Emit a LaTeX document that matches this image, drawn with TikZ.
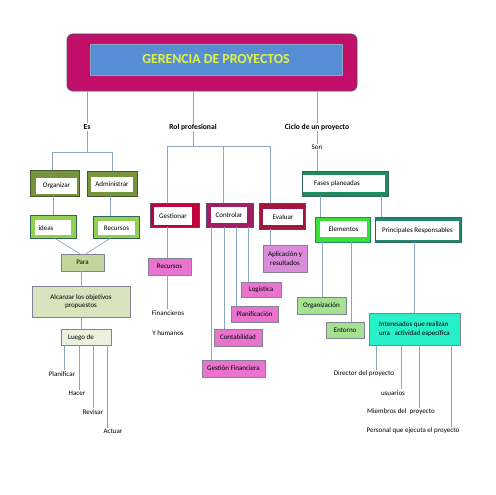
\documentclass[tikz,border=0pt]{standalone}
\usepackage{fontspec}
\setmainfont{Carlito}
\usetikzlibrary{calc}
\definecolor{titlemag}{RGB}{194,16,106}
\definecolor{titleblue}{RGB}{86,141,213}
\definecolor{titleyel}{RGB}{228,244,60}
\definecolor{lineblue}{RGB}{140,165,195}
\definecolor{olive}{RGB}{119,147,60}
\definecolor{olivedark}{RGB}{70,90,50}
\definecolor{lgreen}{RGB}{146,208,80}
\definecolor{tealdark}{RGB}{50,100,90}
\definecolor{parafill}{RGB}{195,214,155}
\definecolor{alcfill}{RGB}{215,228,189}
\definecolor{luegofill}{RGB}{235,241,222}
\definecolor{crimson}{RGB}{192,0,60}
\definecolor{magdark}{RGB}{160,30,100}
\definecolor{maroon}{RGB}{165,22,62}
\definecolor{slate}{RGB}{90,70,120}
\definecolor{pinkfill}{RGB}{233,115,205}
\definecolor{pinklight}{RGB}{218,140,218}
\definecolor{boxgrey}{RGB}{130,130,150}
\definecolor{fasegreen}{RGB}{30,140,94}
\definecolor{brightgreen}{RGB}{58,224,58}
\definecolor{princteal}{RGB}{31,138,112}
\definecolor{elfill}{RGB}{165,226,145}
\definecolor{turq}{RGB}{40,240,200}
\begin{document}
\begin{tikzpicture}[x=1pt,y=-1pt]
\tikzset{
  conn/.style={draw=lineblue, line width=0.7pt},
  txt/.style={font=\fontsize{7}{8.5}\selectfont, inner sep=1pt, text=black},
  boldtxt/.style={font=\fontsize{7.6}{9}\selectfont\bfseries, inner sep=1pt, text=black},
  outerbox/.style={rectangle, inner sep=0pt, line width=0.9pt},
  whitebox/.style={rectangle, fill=white, inner sep=0pt, draw=none, font=\fontsize{7}{8.5}\selectfont},
  flatbox/.style={rectangle, inner sep=0pt, draw=boxgrey, line width=0.5pt, font=\fontsize{7}{8.5}\selectfont, align=center},
}
\useasboundingbox (0,0) rectangle (495,495);
\fill[white] (0,0) rectangle (495,495);

% Title
\node[rectangle, rounded corners=6pt, fill=titlemag, draw=slate, line width=0.8pt,
      minimum width=290pt, minimum height=57pt, inner sep=0pt] (title) at (212,62.5) {};
\node[rectangle, fill=titleblue, draw=lineblue, line width=0.5pt, minimum width=252pt, minimum height=31pt,
      inner sep=0pt, text=titleyel, font=\fontsize{13.8}{15}\selectfont\bfseries] (titlein) at (216,59.5) {GERENCIA DE PROYECTOS};

% Branch labels
\node[boldtxt] (es) at (87,127) {Es};
\node[boldtxt] (rol) at (193,127) {Rol profesional};
\node[boldtxt] (ciclo) at (317,127) {Ciclo de un proyecto};
\node[txt] (son) at (317,147) {Son};

% ---------- Left column ----------
\node[outerbox, fill=olive, draw=olivedark, minimum width=49pt, minimum height=26pt] (org) at (54.5,183) {};
\node[whitebox, minimum width=41pt, minimum height=16pt] (orgi) at (56.5,186) {Organizar};
\node[outerbox, fill=olive, draw=olivedark, minimum width=50pt, minimum height=25pt] (adm) at (112,183.5) {};
\node[whitebox, minimum width=42pt, minimum height=15pt] (admi) at (112,184.5) {Administrar};

\node[outerbox, fill=lgreen, draw=tealdark, minimum width=46pt, minimum height=23pt] (ideas) at (53,226.5) {};
\node[whitebox, minimum width=36pt, minimum height=15pt] (ideasi) at (53,227.5) {};
\node[txt] (ideast) at (46,228) {ideas};
\node[outerbox, fill=lgreen, draw=tealdark, minimum width=46pt, minimum height=22pt] (recL) at (116,227) {};
\node[whitebox, minimum width=37pt, minimum height=14pt] (recLi) at (116.5,228) {Recursos};

\node[flatbox, fill=parafill, minimum width=43pt, minimum height=17pt] (para) at (82.5,262.5) {Para};
\node[flatbox, fill=alcfill, minimum width=98pt, minimum height=31pt] (alc) at (81,301.5) {Alcanzar los objetivos\\propuestos};
\node[flatbox, fill=luegofill, minimum width=50pt, minimum height=16pt] (luego) at (86,337) {};
\node[txt] (luegot) at (81,338) {Luego de};

\node[txt] (planif) at (62,374) {Planificar};
\node[txt] (hacer) at (77,393) {Hacer};
\node[txt] (revisar) at (93,412) {Revisar};
\node[txt] (actuar) at (113,431) {Actuar};

% ---------- Middle column ----------
\node[outerbox, fill=crimson, draw=slate, minimum width=49pt, minimum height=24pt] (gest) at (174.5,215) {};
\node[whitebox, minimum width=38pt, minimum height=18pt] (gesti) at (173,216) {Gestionar};
\node[outerbox, fill=magdark, draw=slate, minimum width=47pt, minimum height=24pt] (ctrl) at (229.5,215) {};
\node[whitebox, minimum width=36pt, minimum height=16pt] (ctrli) at (229,215) {Controlar};
\node[outerbox, fill=maroon, draw=slate, minimum width=46pt, minimum height=26pt] (eval) at (282,216) {};
\node[whitebox, minimum width=40pt, minimum height=16pt] (evali) at (283,217) {Evaluar};

\node[flatbox, fill=pinkfill, minimum width=43pt, minimum height=17pt] (recP) at (169.5,266.5) {Recursos};
\node[txt] (fin) at (168,313) {Financieros};
\node[txt] (hum) at (168,333) {Y humanos};

\node[flatbox, fill=pinkfill, minimum width=40pt, minimum height=15pt] (logis) at (261,289.5) {Logística};
\node[flatbox, fill=pinkfill, minimum width=47pt, minimum height=16pt] (planc) at (254.5,314) {Planificación};
\node[flatbox, fill=pinkfill, minimum width=48pt, minimum height=17pt] (conta) at (238,337.5) {Contabilidad};
\node[flatbox, fill=pinkfill, minimum width=63pt, minimum height=17pt] (gfin) at (233.5,368.5) {Gestión Financiera};
\node[flatbox, fill=pinklight, minimum width=44pt, minimum height=27pt] (aplic) at (285,258.5) {Aplicación y\\resultados};

% ---------- Right column ----------
\node[outerbox, fill=fasegreen, draw=tealdark, minimum width=86pt, minimum height=25pt] (fases) at (345,183.5) {};
\node[whitebox, minimum width=82pt, minimum height=17pt] (fasesi) at (344,183.5) {};
\node[txt] (fasest) at (337,184) {Fases planeadas};

\node[outerbox, fill=brightgreen, draw=fasegreen, minimum width=55pt, minimum height=25pt] (elem) at (342.5,229.5) {};
\node[whitebox, minimum width=47pt, minimum height=16pt] (elemi) at (343.5,229) {Elementos};
\node[outerbox, fill=princteal, draw=tealdark, minimum width=86pt, minimum height=25pt] (princ) at (418,229.5) {};
\node[whitebox, minimum width=83pt, minimum height=19pt] (princi) at (417.5,230.5) {Principales Responsables};

\node[flatbox, fill=elfill, minimum width=49pt, minimum height=17pt] (orgz) at (321.5,305.5) {Organización};
\node[flatbox, fill=elfill, minimum width=38pt, minimum height=16pt] (ent) at (345,330) {Entorno};
\node[flatbox, fill=turq, minimum width=91pt, minimum height=32pt, align=left] (inter) at (414.5,329)
  {Interesados que realizan\\una\ \ \ actividad específica};

\node[txt] (dir) at (364,374) {Director del proyecto};
\node[txt] (usu) at (393,393) {usuarios};
\node[txt] (miem) at (401,412) {Miembros del\ \ proyecto};
\node[txt] (pers) at (413,431) {Personal que ejecuta el proyecto};

% ---------- Connectors ----------
% Es branch
\draw[conn] (title.south -| es) -- (es.north);
\coordinate (b1) at (87,152);
\draw[conn] (es.south) -- (b1);
\draw[conn] ([xshift=-2.5pt]org.north) |- (adm.north |- b1) -- (adm.north);
\draw[conn] ([xshift=-1.5pt]org.south) -- (ideas.north);
\draw[conn] ([xshift=-2pt]adm.south) -- ([xshift=-2pt]adm.south |- recL.north);
\draw[conn] ([xshift=2pt]ideas.south) -- ([xshift=-2.5pt]para.north);
\draw[conn] ([xshift=-6pt]recL.south) -- ([xshift=3.5pt]para.north);
\draw[conn] ([xshift=-1.5pt]para.south) -- ([xshift=-1.5pt]para.south |- alc.north);
\draw[conn] (alc.south) -- (alc.south |- luego.north);
\draw[conn] ([xshift=2pt]planif.north |- luego.south) -- ([xshift=2pt]planif.north);
\draw[conn] ([xshift=2pt]hacer.north |- luego.south) -- ([xshift=2pt]hacer.north);
\draw[conn] (revisar.north |- luego.south) -- (revisar.north);
\draw[conn] ([xshift=-6pt]actuar.north |- luego.south) -- ([xshift=-6pt]actuar.north);

% Rol branch
\draw[conn] (title.south -| rol) -- (rol.north);
\coordinate (b2) at (193,146);
\draw[conn] (rol.south) -- (b2);
\draw[conn] ([xshift=-7.5pt]gest.north) |- ([xshift=-12pt]eval.north |- b2) -- ([xshift=-12pt]eval.north);
\draw[conn] ([xshift=-6.5pt]ctrl.north) -- ([xshift=-6.5pt]ctrl.north |- b2);
\draw[conn] ([xshift=-7.5pt]gest.south) -- ([xshift=-7.5pt]gest.south |- recP.north);
\draw[conn] ([xshift=-2.5pt]recP.south) -- ([xshift=-2.5pt]recP.south |- fin.north);
\draw[conn] ([xshift=-18.5pt]ctrl.south) -- ([xshift=-18.5pt]ctrl.south |- gfin.north);
\draw[conn] ([xshift=-5.5pt]ctrl.south) -- ([xshift=-5.5pt]ctrl.south |- conta.north);
\draw[conn] ([xshift=6.5pt]ctrl.south) -- ([xshift=6.5pt]ctrl.south |- planc.north);
\draw[conn] ([xshift=18.5pt]ctrl.south) -- ([xshift=18.5pt]ctrl.south |- logis.north);
\draw[conn] ([xshift=-12pt]eval.south) -- ([xshift=-12pt]eval.south |- aplic.north);

% Ciclo branch
\draw[conn] (title.south -| ciclo) -- (ciclo.north);
\draw[conn] (ciclo.south) -- (son.north);
\draw[conn] (son.south) -- (son.south |- fases.north);
\draw[conn] ([xshift=-25pt]fases.south) -- ([xshift=-25pt]fases.south |- elem.north);
\draw[conn] ([xshift=36pt]fases.south) -- ([xshift=36pt]fases.south |- princ.north);
\draw[conn] ([xshift=-20.5pt]elem.south) -- ([xshift=-20.5pt]elem.south |- orgz.north);
\draw[conn] ([xshift=8.5pt]elem.south) -- ([xshift=8.5pt]elem.south |- ent.north);
\draw[conn] ([xshift=-4pt]princ.south) -- ([xshift=-4pt]princ.south |- inter.north);
\draw[conn] ([xshift=12pt]dir.north |- inter.south) -- ([xshift=12pt]dir.north);
\draw[conn] ([xshift=8pt]usu.north |- inter.south) -- ([xshift=8pt]usu.north);
\draw[conn] ([xshift=18pt]miem.north |- inter.south) -- ([xshift=18pt]miem.north);
\draw[conn] ([xshift=38pt]pers.north |- inter.south) -- ([xshift=38pt]pers.north);
\end{tikzpicture}
\end{document}
